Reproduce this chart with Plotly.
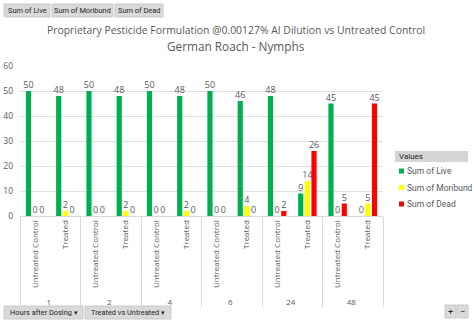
import plotly.graph_objects as go

# Pivot data: hours after dosing x treatment group
hours = ["1", "1", "2", "2", "4", "4", "6", "6", "24", "24", "48", "48"]
groups = ["Untreated Control", "Treated"] * 6
live = [50, 48, 50, 48, 50, 48, 50, 46, 48, 9, 45, 0]
moribund = [0, 2, 0, 2, 0, 2, 0, 4, 0, 14, 0, 5]
dead = [0, 0, 0, 0, 0, 0, 0, 0, 2, 26, 5, 45]

series = [
    ("Sum of Live", live, "#00B050"),
    ("Sum of Moribund", moribund, "#FFFF00"),
    ("Sum of Dead", dead, "#FF0000"),
]

FONT = "Open Sans"
SMALL = "Roboto"
GREY = "#595959"
W, H = 474, 323
L, R, T, B = 20, 91, 66, 107
PW, PH = W - L - R, H - T - B


def px(x):
    return (x - L) / PW


def py(y):
    return 1 - (y - T) / PH


fig = go.Figure()
for name, vals, color in series:
    fig.add_trace(go.Bar(
        name=name,
        x=[hours, groups],
        y=vals,
        marker=dict(color=color, line=dict(width=0)),
        text=[str(v) for v in vals],
        textposition="outside",
        constraintext="none",
        textfont=dict(family=FONT, size=9, color=GREY),
        cliponaxis=False,
        showlegend=False,
    ))

fig.update_layout(
    width=W, height=H,
    margin=dict(l=L, r=R, t=T, b=B, autoexpand=False),
    paper_bgcolor="white", plot_bgcolor="white",
    barmode="group", bargap=0.34, bargroupgap=0.22,
    font=dict(family=FONT, color=GREY),
    showlegend=False,
)

fig.update_yaxes(
    range=[0, 60], dtick=10,
    showgrid=True, gridcolor="#E0E0E0", gridwidth=1,
    zeroline=False, showline=False,
    tickfont=dict(size=8.5, color=GREY), ticklen=0, ticklabelstandoff=6,
)
fig.update_xaxes(
    type="multicategory",
    tickangle=-90,
    tickfont=dict(family=FONT, size=8, color=GREY),
    showdividers=True, dividercolor="#D9D9D9", dividerwidth=1,
    showline=True, linecolor="#D9D9D9",
    showgrid=False,
)

# Chart titles
fig.add_annotation(text="Proprietary Pesticide Formulation @0.00127% AI Dilution vs Untreated Control",
                   xref="paper", yref="paper", x=px(236), y=py(30), showarrow=False,
                   font=dict(size=10.4, color=GREY), xanchor="center", yanchor="middle")
fig.add_annotation(text="German Roach - Nymphs",
                   xref="paper", yref="paper", x=px(236), y=py(46), showarrow=False,
                   font=dict(size=11.8, color=GREY), xanchor="center", yanchor="middle")


# Pivot field buttons
def button(text, x0, y0, w, h=13, size=7.4):
    fig.add_shape(type="rect", xref="paper", yref="paper",
                  x0=px(x0), x1=px(x0 + w), y0=py(y0 + h), y1=py(y0),
                  fillcolor="#D9D9D9", line=dict(color="#CACACA", width=1))
    fig.add_annotation(text=text, xref="paper", yref="paper",
                       x=px(x0 + w / 2), y=py(y0 + h / 2),
                       xanchor="center", yanchor="middle", showarrow=False,
                       font=dict(family=SMALL, size=size, color="#262626"))


button("Sum of Live", 4, 4, 46)
button("Sum of Moribund", 52, 4, 61)
button("Sum of Dead", 115, 4, 48)
button("Hours after Dosing ▾", 4, 306, 79)
button("Treated vs Untreated ▾", 85, 306, 86)
button("+", 445, 305, 11, size=9)
button("−", 457, 305, 11, size=9)

# Legend: header bar and swatches
fig.add_shape(type="rect", xref="paper", yref="paper",
              x0=px(395), x1=px(468), y0=py(162), y1=py(151),
              fillcolor="#D4D4D4", line=dict(width=0))
fig.add_annotation(text="Values", xref="paper", yref="paper", x=px(397), y=py(156.5),
                   xanchor="left", yanchor="middle", showarrow=False,
                   font=dict(family=SMALL, size=8, color="#262626"))
for i, (name, _, color) in enumerate(series):
    yc = 171 + 16.5 * i
    fig.add_shape(type="rect", xref="paper", yref="paper",
                  x0=px(399), x1=px(404), y0=py(yc + 2.5), y1=py(yc - 2.5),
                  fillcolor=color, line=dict(width=0))
    fig.add_annotation(text=name, xref="paper", yref="paper", x=px(405.5), y=py(yc),
                       xanchor="left", yanchor="middle", showarrow=False,
                       font=dict(family=SMALL, size=8.5, color=GREY))

fig.write_html("out.html")
